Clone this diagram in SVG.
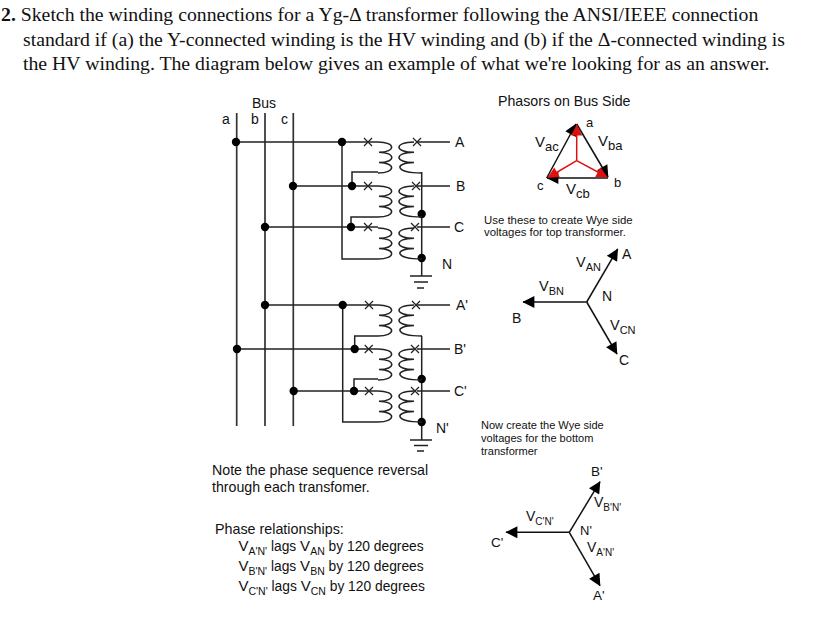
<svg xmlns="http://www.w3.org/2000/svg" width="813" height="631" viewBox="0 0 813 631">
<style>
.h{font:19.75px "Liberation Serif",serif;fill:#111}
.t{font-family:"Liberation Sans",Arial,sans-serif;fill:#111}
.s12{font-size:14px}
.w{fill:none;stroke:#222;stroke-width:1.5}
.bus{fill:none;stroke:#333;stroke-width:1.7}
.k{fill:#000}
.x{fill:none;stroke:#222;stroke-width:1.2}
.ph{fill:none;stroke:#111;stroke-width:1.5;marker-end:url(#ab)}
.pr{fill:none;stroke:#e01010;stroke-width:1.5;marker-end:url(#ar)}
</style>
<defs>
<marker id="ab" viewBox="0 0 10 10" refX="9.5" refY="5" markerWidth="14" markerHeight="12" markerUnits="userSpaceOnUse" orient="auto"><path d="M0 0L10 5L0 10z" fill="#000"/></marker>
<marker id="ar" viewBox="0 0 10 10" refX="9.5" refY="5" markerWidth="13" markerHeight="11" markerUnits="userSpaceOnUse" orient="auto"><path d="M0 0L10 5L0 10z" fill="#e01010"/></marker>
<path id="pc" class="w" d="M378 0c18 0 18 10.300 1 10.300c17 0 17 10.300 0 10.300c17 0 17 10.400 -1 10.400"/>
<path id="sc" class="w" d="M414 0c-20 0 -20 10.300 0 10.300c-20 0 -20 10.300 0 10.300c-20 0 -20 10.400 8 10.400"/>
<path id="xm" class="x" d="M-4 -4L4 4M-4 4L4 -4"/>
<circle id="d" r="4.200" class="k"/>
</defs>
<g id="question">
<text class="h" x="1" y="21"><tspan font-weight="bold">2.</tspan> Sketch the winding connections for a Yg-Δ transformer following the ANSI/IEEE connection</text>
<text class="h" x="23" y="46">standard if (a) the Y-connected winding is the HV winding and (b) if the Δ-connected winding is</text>
<text class="h" x="23" y="70">the HV winding. The diagram below gives an example of what we're looking for as an answer.</text>
</g>
<g id="connectors">
<path class="bus" d="M236.700 113V426M265 113V426M293.300 113V426"/>
<path class="w" d="M236.700 142H378M417 142H450M293.300 186H378M352 186V172H378M417 186H450M265 227H378M351 227V217H378M417 227H450M342 142V259H378M421.700 172V276M410 276H432M414 282H428M417 288H424"/>
<path class="w" d="M265 305H378M417 305H450M236.700 349H378M354.700 349V336H378M417 349H450M293.700 391H378M354 391V379H378M417 391H450M342.700 305V422H378M421.700 336V440M410 440H432M414 445.500H428M417 451H424"/>
</g>
<g id="junctions">
<use href="#d" x="236" y="142"/><use href="#d" x="342" y="142"/><use href="#d" x="293" y="186"/><use href="#d" x="352" y="186"/><use href="#d" x="265" y="227"/><use href="#d" x="351" y="227"/><use href="#d" x="421.700" y="214"/><use href="#d" x="421.700" y="258"/>
<use href="#d" x="265" y="305"/><use href="#d" x="342.700" y="305"/><use href="#d" x="237" y="349"/><use href="#d" x="354.700" y="349"/><use href="#d" x="293.700" y="391"/><use href="#d" x="354" y="391"/><use href="#d" x="421.700" y="379"/><use href="#d" x="421.700" y="422"/>
</g>
<g id="top-transformer">
<use href="#pc" y="142"/><use href="#sc" y="142"/><use href="#pc" y="186"/><use href="#sc" y="186"/><use href="#pc" y="228"/><use href="#sc" y="228"/>
<use href="#xm" x="368" y="142"/><use href="#xm" x="417" y="142"/><use href="#xm" x="368" y="186"/><use href="#xm" x="416" y="186"/><use href="#xm" x="368" y="227"/><use href="#xm" x="415" y="227"/>
</g>
<g id="bottom-transformer">
<use href="#pc" y="305"/><use href="#sc" y="305"/><use href="#pc" y="349"/><use href="#sc" y="349"/><use href="#pc" y="391"/><use href="#sc" y="391"/>
<use href="#xm" x="369" y="305"/><use href="#xm" x="416" y="305"/><use href="#xm" x="368.700" y="349"/><use href="#xm" x="415" y="349"/><use href="#xm" x="369" y="391"/><use href="#xm" x="415" y="391"/>
</g>
<g id="bus-labels" class="t s12">
<text x="252" y="108">Bus</text><text x="222" y="124">a</text><text x="251" y="124">b</text><text x="281" y="124">c</text>
<text x="455" y="147">A</text><text x="456" y="191">B</text><text x="454" y="232">C</text><text x="442" y="269">N</text>
<text x="456" y="310">A'</text><text x="454" y="354">B'</text><text x="454" y="396">C'</text><text x="436" y="433">N'</text>
</g>
<g id="notes" class="t">
<text x="212" y="475" font-size="14.200">Note the phase sequence reversal</text>
<text x="212" y="492" font-size="14.200">through each transfomer.</text>
<text x="215" y="534" font-size="14.300">Phase relationships:</text>
<text x="238.500" y="551" font-size="13.800"><tspan font-size="15">V</tspan><tspan dy="3.500" font-size="10.500">A'N'</tspan><tspan dy="-3.500"> lags </tspan><tspan font-size="15">V</tspan><tspan dy="3.500" font-size="10.500">AN</tspan><tspan dy="-3.500"> by 120 degrees</tspan></text>
<text x="238.500" y="571" font-size="13.800"><tspan font-size="15">V</tspan><tspan dy="3.500" font-size="10.500">B'N'</tspan><tspan dy="-3.500"> lags </tspan><tspan font-size="15">V</tspan><tspan dy="3.500" font-size="10.500">BN</tspan><tspan dy="-3.500"> by 120 degrees</tspan></text>
<text x="238.500" y="591" font-size="13.800"><tspan font-size="15">V</tspan><tspan dy="3.500" font-size="10.500">C'N'</tspan><tspan dy="-3.500"> lags </tspan><tspan font-size="15">V</tspan><tspan dy="3.500" font-size="10.500">CN</tspan><tspan dy="-3.500"> by 120 degrees</tspan></text>
</g>
<g id="bus-phasors">
<path class="ph" d="M546.700 178L576 124"/>
<path class="ph" d="M576.700 124L608 177"/>
<path class="ph" d="M608 178H547"/>
<path class="pr" d="M576.700 160.700V125"/>
<path class="pr" d="M576.700 160.700L607 177"/>
<path class="pr" d="M576.700 160.700L548 177.500"/>
<g class="t">
<text x="498" y="106" font-size="14.200">Phasors on Bus Side</text>
<text x="586" y="127" font-size="13">a</text><text x="614" y="187" font-size="13">b</text><text x="537" y="190" font-size="13">c</text>
<text x="535" y="147" font-size="15">V<tspan dy="3.500" font-size="13">ac</tspan></text>
<text x="598" y="146" font-size="15">V<tspan dy="3.500" font-size="13">ba</tspan></text>
<text x="566" y="194" font-size="15">V<tspan dy="3.500" font-size="13">cb</tspan></text>
<text x="484" y="224" font-size="11.400">Use these to create  Wye side</text>
<text x="484" y="236" font-size="11.400">voltages for top transformer.</text>
</g>
</g>
<g id="wye-top">
<path class="ph" d="M586.700 302L617.700 249"/>
<path class="ph" d="M586.700 302H523"/>
<path class="ph" d="M586.700 302L617 354"/>
<g class="t">
<text x="622" y="259" font-size="14">A</text><text x="512" y="323" font-size="14">B</text><text x="619" y="365" font-size="14">C</text><text x="602" y="301" font-size="14">N</text>
<text x="576" y="267" font-size="14.500">V<tspan dy="4" font-size="11">AN</tspan></text>
<text x="539" y="291" font-size="14.500">V<tspan dy="4" font-size="11">BN</tspan></text>
<text x="610" y="330" font-size="14.500">V<tspan dy="4" font-size="11">CN</tspan></text>
</g>
</g>
<g id="wye-bottom">
<path class="ph" d="M569.300 532.300L600 481.700"/>
<path class="ph" d="M569.300 532.300H506"/>
<path class="ph" d="M569.300 532.300L600 585.700"/>
<g class="t">
<text x="481" y="429" font-size="11.050">Now create the Wye side</text>
<text x="481" y="442" font-size="11.050">voltages for the bottom</text>
<text x="481" y="455" font-size="11.050">transformer</text>
<text x="591" y="476" font-size="13.500">B'</text><text x="491" y="547" font-size="13.500">C'</text><text x="593" y="600" font-size="13.500">A'</text><text x="580" y="535" font-size="13">N'</text>
<text x="594" y="507" font-size="14">V<tspan dy="3.500" font-size="10">B'N'</tspan></text>
<text x="526" y="521" font-size="14">V<tspan dy="3.500" font-size="10">C'N'</tspan></text>
<text x="587" y="552" font-size="14">V<tspan dy="3.500" font-size="10">A'N'</tspan></text>
</g>
</g>
</svg>
